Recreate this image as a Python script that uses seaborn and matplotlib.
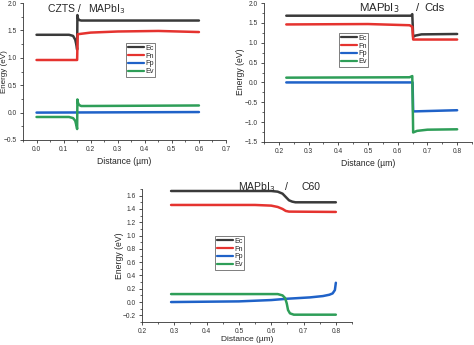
import numpy as np
import pandas as pd
import matplotlib
matplotlib.use("Agg")
import matplotlib.pyplot as plt
import seaborn as sns
from matplotlib.ticker import AutoMinorLocator

sns.set_style("ticks")
plt.rcParams['font.family'] = ['Liberation Sans', 'DejaVu Sans']

series = ["Ec", "Fn", "Fp", "Ev"]
colors = {"Ec": "#3a3a3a", "Fn": "#e5332f", "Fp": "#1f62c8", "Ev": "#2e9e58"}

# ---- Panel 1: CZTS / MAPbI3 ----
p1_ec_x = [0.0, 0.12, 0.135, 0.143, 0.148, 0.150, 0.151, 0.153, 0.157, 0.165, 0.6]
p1_ec_y = [1.42, 1.42, 1.40, 1.33, 1.22, 1.15, 1.78, 1.72, 1.69, 1.68, 1.68]
p1_fn_x = [0.0, 0.150, 0.152, 0.2, 0.3, 0.45, 0.6]
p1_fn_y = [0.96, 0.96, 1.43, 1.46, 1.48, 1.49, 1.47]
p1_fp_x = [0.0, 0.6]
p1_fp_y = [0.0, 0.01]
p1_ev_x = [0.0, 0.12, 0.135, 0.143, 0.148, 0.150, 0.151, 0.153, 0.157, 0.165, 0.6]
p1_ev_y = [-0.08, -0.08, -0.10, -0.15, -0.25, -0.30, 0.24, 0.18, 0.14, 0.12, 0.13]

# ---- Panel 2: MAPbI3 / CdS ----
p2_ec_x = [0.225, 0.645, 0.649, 0.652, 0.66, 0.68, 0.8]
p2_ec_y = [1.68, 1.68, 1.72, 1.15, 1.18, 1.21, 1.22]
p2_fn_x = [0.225, 0.5, 0.64, 0.649, 0.652, 0.8]
p2_fn_y = [1.46, 1.47, 1.44, 1.40, 1.08, 1.08]
p2_fp_x = [0.225, 0.650, 0.652, 0.7, 0.8]
p2_fp_y = [0.0, 0.0, -0.73, -0.72, -0.70]
p2_ev_x = [0.225, 0.64, 0.649, 0.652, 0.665, 0.7, 0.8]
p2_ev_y = [0.12, 0.13, 0.16, -1.26, -1.22, -1.19, -1.18]

# ---- Panel 3: MAPbI3 / C60 ----
p3_ec_x = [0.29, 0.60, 0.62, 0.635, 0.645, 0.655, 0.665, 0.675, 0.8]
p3_ec_y = [1.67, 1.67, 1.66, 1.63, 1.58, 1.53, 1.51, 1.50, 1.50]
p3_fn_x = [0.29, 0.55, 0.60, 0.62, 0.635, 0.645, 0.655, 0.8]
p3_fn_y = [1.46, 1.46, 1.45, 1.43, 1.40, 1.37, 1.36, 1.355]
p3_fp_x = [0.29, 0.5, 0.6, 0.65, 0.72, 0.76, 0.78, 0.79, 0.797, 0.8]
p3_fp_y = [0.0, 0.01, 0.03, 0.05, 0.07, 0.09, 0.11, 0.13, 0.18, 0.29]
p3_ev_x = [0.29, 0.60, 0.62, 0.635, 0.643, 0.648, 0.652, 0.658, 0.67, 0.8]
p3_ev_y = [0.12, 0.12, 0.12, 0.10, 0.06, -0.02, -0.12, -0.17, -0.19, -0.19]


def make_df(ec, fn, fp, ev):
    rows = []
    for name, (xs, ys) in zip(series, [ec, fn, fp, ev]):
        for x, y in zip(xs, ys):
            rows.append({"Distance": x, "Energy": y, "Series": name})
    return pd.DataFrame(rows)


df1 = make_df((p1_ec_x, p1_ec_y), (p1_fn_x, p1_fn_y), (p1_fp_x, p1_fp_y), (p1_ev_x, p1_ev_y))
df2 = make_df((p2_ec_x, p2_ec_y), (p2_fn_x, p2_fn_y), (p2_fp_x, p2_fp_y), (p2_ev_x, p2_ev_y))
df3 = make_df((p3_ec_x, p3_ec_y), (p3_fn_x, p3_fn_y), (p3_fp_x, p3_fp_y), (p3_ev_x, p3_ev_y))

W, H = 474, 345
fig = plt.figure(figsize=(W / 100, H / 100), dpi=100)


def add_ax(left, top, right, bottom):
    return fig.add_axes([left / W, 1 - bottom / H, (right - left) / W, (bottom - top) / H])


def fpos(x, y):
    return x / W, 1 - y / H


ax1 = add_ax(23, 3, 226, 140)
ax2 = add_ax(264, 3, 472, 142)
ax3 = add_ax(142, 189, 352, 322)

configs = [
    (ax1, df1, (-0.05, 0.7), (-0.5, 2.0), (126, 43)),
    (ax2, df2, (0.15, 0.85), (-1.5, 2.0), (339, 33)),
    (ax3, df3, (0.2, 0.85), (-0.3, 1.7), (215, 236)),
]

for ax, df, xl, yl, lg in configs:
    sns.lineplot(data=df, x="Distance", y="Energy", hue="Series", hue_order=series,
                 palette=colors, estimator=None, sort=False, units="Series",
                 linewidth=1.8, ax=ax, legend=False)
    ax.set_xlim(*xl)
    ax.set_ylim(*yl)
    ax.tick_params(which="major", direction="out", length=2.5, width=0.6, labelsize=4.8,
                   colors="#333333", pad=2)
    ax.tick_params(which="minor", direction="out", length=1.5, width=0.5)
    for s in ["top", "right"]:
        ax.spines[s].set_visible(False)
    for s in ["left", "bottom"]:
        ax.spines[s].set_linewidth(0.6)
        ax.spines[s].set_color("#333333")
    ax.set_xlabel("Distance (µm)", fontsize=6.2, labelpad=3)
    ax.set_ylabel("Energy (eV)", fontsize=6.2, labelpad=2)
    handles = [plt.Line2D([], [], color=colors[s], lw=1.6) for s in series]
    leg = ax.legend(handles, series, fontsize=5.2, frameon=True, fancybox=False,
                    handlelength=2.2, handletextpad=0.2, borderpad=0.25, labelspacing=0.1,
                    borderaxespad=0, loc="upper left",
                    bbox_to_anchor=fpos(*lg), bbox_transform=fig.transFigure)
    leg.get_frame().set_edgecolor("#444444")
    leg.get_frame().set_linewidth(0.6)

ax1.set_xticks([0.0, 0.1, 0.2, 0.3, 0.4, 0.5, 0.6, 0.7])
ax1.set_yticks([-0.5, 0.0, 0.5, 1.0, 1.5, 2.0])
ax2.set_xticks([0.2, 0.3, 0.4, 0.5, 0.6, 0.7, 0.8])
ax2.set_yticks([-1.5, -1.0, -0.5, 0.0, 0.5, 1.0, 1.5, 2.0])
ax3.set_xticks([0.2, 0.3, 0.4, 0.5, 0.6, 0.7, 0.8])
ax3.set_yticks([-0.2, 0.0, 0.2, 0.4, 0.6, 0.8, 1.0, 1.2, 1.4, 1.6])
for ax in (ax1, ax2, ax3):
    ax.yaxis.set_minor_locator(AutoMinorLocator(2))
    ax.xaxis.set_minor_locator(AutoMinorLocator(2))

# axis-label positions (pixel positions of label centres)
to_ax = lambda ax, x, y: (fig.transFigure + ax.transAxes.inverted()).transform(fpos(x, y))
ax1.yaxis.set_label_coords(*to_ax(ax1, 4.5, 72))
ax1.yaxis.label.set_fontsize(5.8)
ax1.yaxis.label.set_va("center")
ax2.yaxis.set_label_coords(*to_ax(ax2, 245, 72))
ax3.yaxis.set_label_coords(*to_ax(ax3, 124, 256))
ax3.xaxis.set_label_coords(*to_ax(ax3, 247, 339.5))
ax3.xaxis.label.set_va("center")
ax3.xaxis.label.set_fontsize(6.0)

# panel titles
fig.text(*fpos(48, 9), "CZTS /", fontsize=7.5, va="center", ha="left")
fig.text(*fpos(88, 9), "MAPbI$_3$", fontsize=7.5, va="center", ha="left")
fig.text(*fpos(359, 8), "MAPbI$_3$", fontsize=8.2, va="center", ha="left")
fig.text(*fpos(416, 8), "/", fontsize=8.2, va="center", ha="left")
fig.text(*fpos(424, 8), "Cds", fontsize=8.2, va="center", ha="left")
fig.text(*fpos(238, 187), "MAPbI$_3$", fontsize=7.5, va="center", ha="left")
fig.text(*fpos(285, 187), "/", fontsize=7.5, va="center", ha="left")
fig.text(*fpos(302, 187), "C60", fontsize=7.5, va="center", ha="left")

fig.savefig("out.png", dpi=100)
